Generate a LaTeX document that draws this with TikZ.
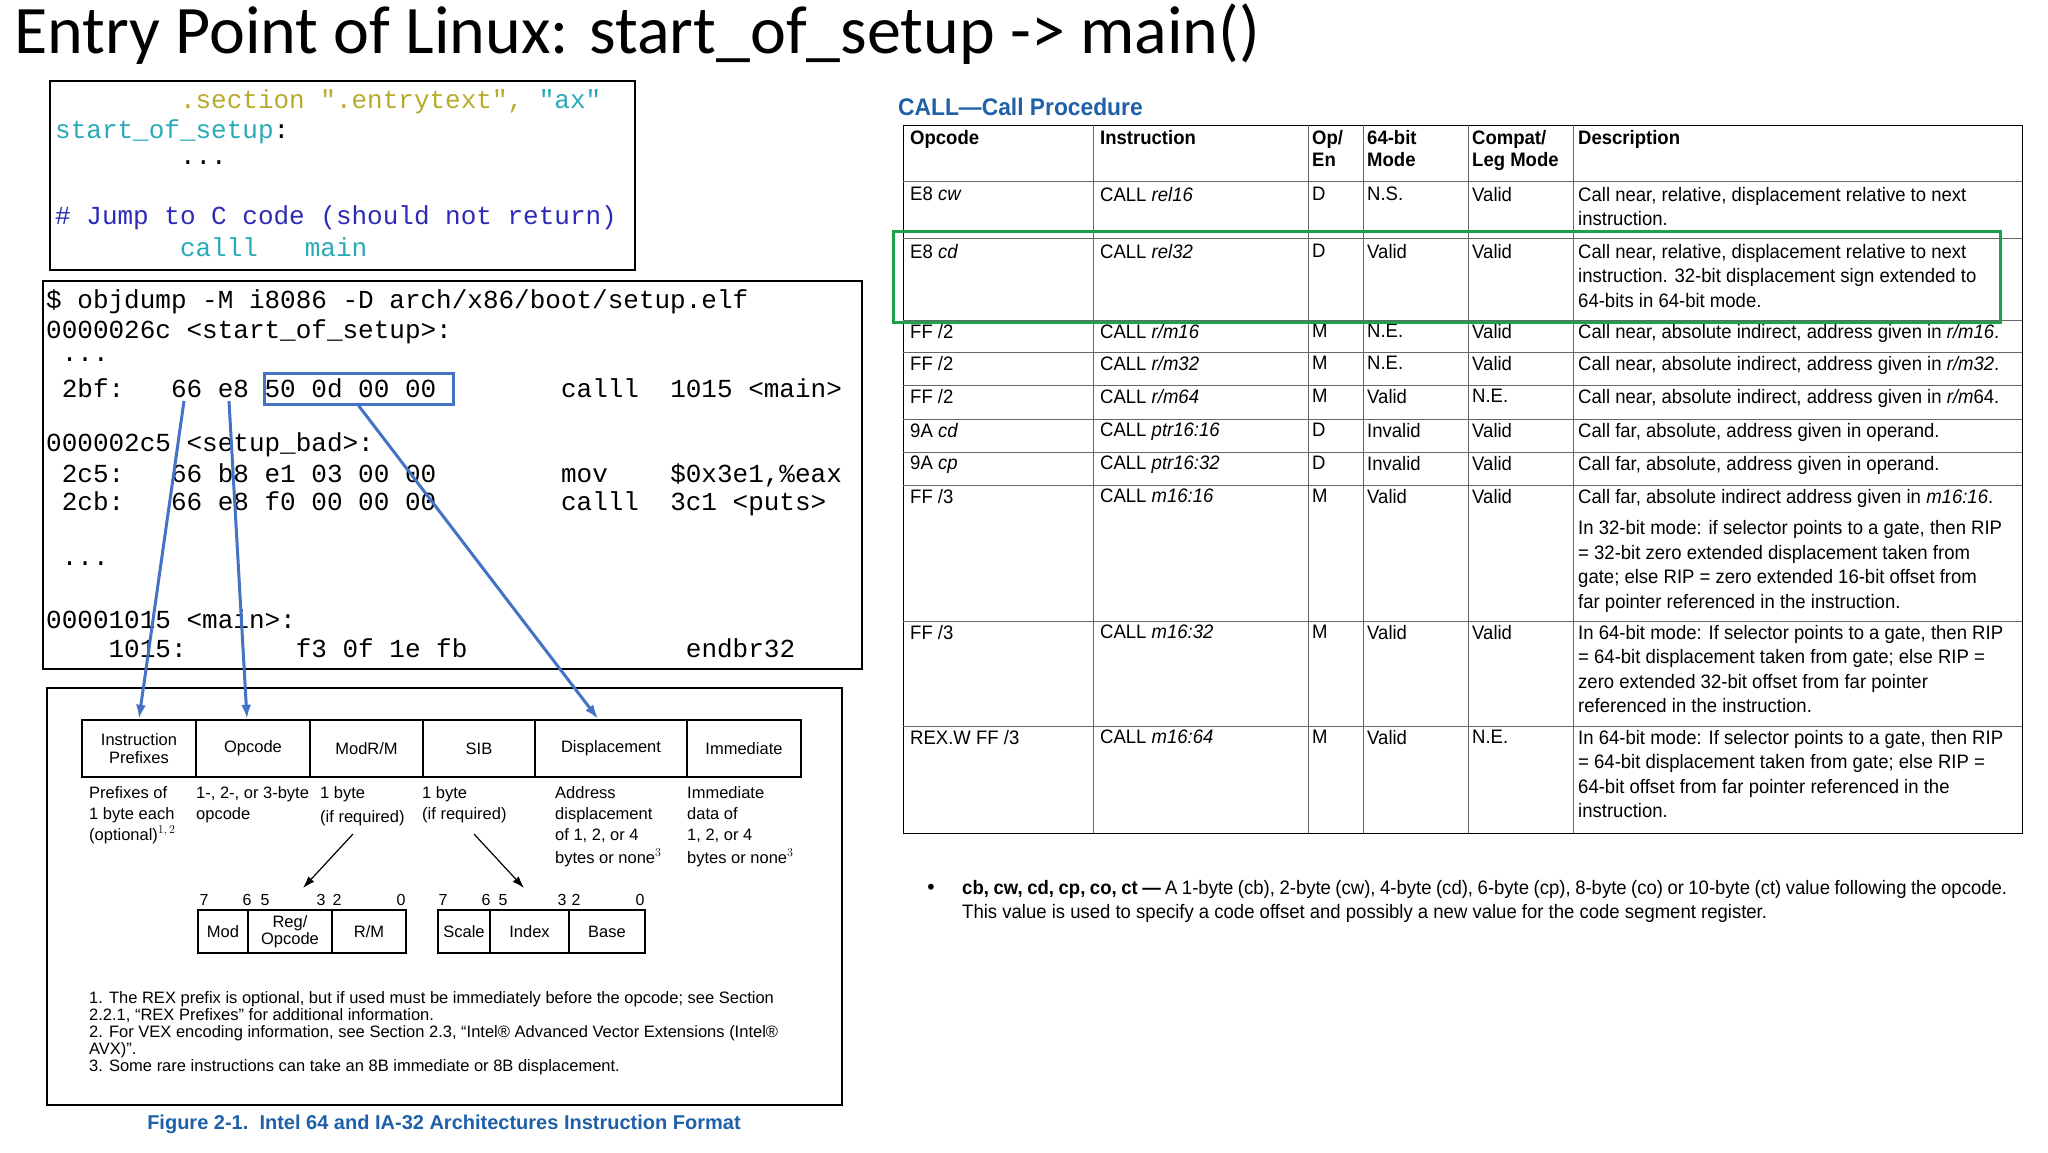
\documentclass[tikz,border=0pt]{standalone}
\usepackage{fontspec}
\usetikzlibrary{arrows.meta}
\setmainfont{Liberation Sans}
\newfontfamily\ttl{Carlito}
\newfontfamily\mono{Liberation Mono}
\newfontfamily\intel[FakeStretch=0.95,Ligatures=TeX]{Liberation Sans}
\newfontfamily\fig[Ligatures=TeX]{Liberation Sans}
\definecolor{olive}{HTML}{B8AA2A}
\definecolor{tealc}{HTML}{2AAAB8}
\definecolor{cmt}{HTML}{2B2BB8}
\definecolor{ablue}{HTML}{4472C4}
\definecolor{ibl}{HTML}{1F60A8}
\definecolor{grn}{HTML}{21A04A}
\begin{document}
\begin{tikzpicture}[x=1pt,y=-1pt,
  tl/.style={anchor=west,inner sep=0,font=\mono\fontsize{26}{30}\selectfont},
  ol/.style={anchor=west,inner sep=0,font=\mono\fontsize{26}{30}\selectfont},
  fcell/.style={draw,line width=2.5,minimum height=57,inner sep=0,align=center,font=\fig\fontsize{16.5}{18}\selectfont},
  bcell/.style={draw,line width=2.5,minimum height=43,inner sep=0,align=center,font=\fig\fontsize{16.5}{17}\selectfont},
  flab/.style={anchor=north west,inner sep=0,align=left,font=\fig\fontsize{16.5}{21}\selectfont},
  bit/.style={inner sep=0,font=\fig\fontsize{16}{16}\selectfont},
  tc/.style={anchor=north west,inner sep=0,align=left,font=\intel\fontsize{19.5}{24.5}\selectfont},
  th/.style={anchor=north west,inner sep=0,align=left,font=\intel\bfseries\fontsize{19.5}{22}\selectfont},
  barrow/.style={draw=ablue,line width=3,-{Latex[length=14,width=10]}},
  karrow/.style={draw,line width=1.2,-{Latex[length=12,width=8]}}]
\useasboundingbox (0,0) rectangle (2048,1152);
\fill[white] (0,0) rectangle (2048,1152);
% title
\node[anchor=west,inner sep=0,font=\ttl\fontsize{68}{72}\selectfont] (title) at (14,34) {Entry Point of Linux: start\_of\_setup -> main()};
% box 1
\draw[line width=2] (50,81) rectangle (635,270);
\node[tl] (s1) at (55,102) {~~~~~~~~\textcolor{olive}{.section~".entrytext",}~\textcolor{tealc}{"ax"}};
\node[tl] (s2) at (55,132) {\textcolor{tealc}{start\_of\_setup}:};
\node[tl] (s3) at (55,163) {~~~~~~~~...};
\node[tl] (s4) at (55,218) {\textcolor{cmt}{\#~Jump~to~C~code~(should~not~return)}};
\node[tl] (s5) at (55,247) {\textcolor{tealc}{~~~~~~~~calll~~~main}};
% box 2
\draw[line width=2] (43,281) rectangle (862,669);
\node[ol] (o1) at (46,302) {\$~objdump~-M~i8086~-D~arch/x86/boot/setup.elf};
\node[ol] (o2) at (46,332) {0000026c~<start\_of\_setup>:};
\node[ol] (o3) at (46,360) {~...};
\node[ol] (o4) at (46,388) {~2bf:~~~66~e8~50~0d~00~00~~~~~~~~calll~~1015~<main>};
\node[ol] (o5) at (46,445) {000002c5~<setup\_bad>:};
\node[ol] (o6) at (46,475) {~2c5:~~~66~b8~e1~03~00~00~~~~~~~~mov~~~~\$0x3e1,\%eax};
\node[ol] (o7) at (46,504) {~2cb:~~~66~e8~f0~00~00~00~~~~~~~~calll~~3c1~<puts>};
\node[ol] (o8) at (46,564) {~...};
\node[ol] (o9) at (46,619) {00001015~<main>:};
\node[ol] (o10) at (46,648) {~~~~1015:~~~~~~~f3~0f~1e~fb~~~~~~~~~~~~~~endbr32};
\node[draw=ablue,line width=3,minimum width=189,minimum height=31,inner sep=0] (hl) at (358.5,388.5) {};
% box 3
\draw[line width=1.5] (47,688) rectangle (842,1105);
\node[fcell,minimum width=114] (f1) at (139,748.5) {Instruction\\Prefixes};
\node[fcell,minimum width=114] (f2) at (253,748.5) {Opcode};
\node[fcell,minimum width=113] (f3) at (366.5,748.5) {ModR/M};
\node[fcell,minimum width=112] (f4) at (479,748.5) {SIB};
\node[fcell,minimum width=152] (f5) at (611,748.5) {Displacement};
\node[fcell,minimum width=114] (f6) at (744,748.5) {Immediate};
\node[flab] (l1) at (89,786) {Prefixes of\\1 byte each\\(optional)$^{1,\,2}$};
\node[flab] (l2) at (196,786) {1-, 2-, or 3-byte\\opcode};
\node[flab] (l3) at (320,786) {1 byte\\[3pt](if required)};
\node[flab] (l4) at (422,786) {1 byte\\(if required)};
\node[flab] (l5) at (555,786) {Address\\displacement\\of 1, 2, or 4\\[2pt]bytes or none$^3$};
\node[flab] (l6) at (687,786) {Immediate\\data of\\1, 2, or 4\\[2pt]bytes or none$^3$};
\coordinate (m1) at (353,834); \coordinate (m2) at (303,888);
\coordinate (n1) at (474,834); \coordinate (n2) at (524,888);
\draw[karrow] (m1) -- (m2);
\draw[karrow] (n1) -- (n2);
\foreach \t/\x in {7/204,6/247,5/265,3/321,2/337,0/401,7/443,6/486,5/503,3/562,2/576,0/640}
  \node[bit] at (\x,900) {\t};
\node[bcell,minimum width=50] (b1) at (223,931.5) {Mod};
\node[bcell,minimum width=84] (b2) at (290,931.5) {Reg/\\Opcode};
\node[bcell,minimum width=74] (b3) at (369,931.5) {R/M};
\node[bcell,minimum width=52] (b4) at (464,931.5) {Scale};
\node[bcell,minimum width=79] (b5) at (529.5,931.5) {Index};
\node[bcell,minimum width=76] (b6) at (607,931.5) {Base};
\node[flab,font=\fig\fontsize{16.5}{17}\selectfont] (fn) at (89,991) {1. The REX prefix is optional, but if used must be immediately before the opcode; see Section\\2.2.1, “REX Prefixes” for additional information.\\2. For VEX encoding information, see Section 2.3, “Intel\textregistered\ Advanced Vector Extensions (Intel\textregistered\\AVX)”.\\3. Some rare instructions can take an 8B immediate or 8B displacement.};
\node[inner sep=0,font=\fig\bfseries\fontsize{20}{22}\selectfont,text=ibl] (cap) at (444,1124) {Figure 2-1.\ \ Intel 64 and IA-32 Architectures Instruction Format};
% blue arrows
\coordinate (a66) at (184,401);
\coordinate (ae8) at (229,401);
\draw[barrow] (a66) -- (f1.north);
\draw[barrow] (ae8) -- ([xshift=-6]f2.north);
\draw[barrow] (hl.south) -- ([xshift=-13]f5.north);
% table
\node[anchor=west,inner sep=0,font=\intel\bfseries\fontsize{24}{26}\selectfont,text=ibl] (ctitle) at (898,107) {CALL—Call Procedure};
\draw[line width=1] (903,125) rectangle (2022,833);
\foreach \y in {181,238,320,352,385,419,452,485,621,726} \draw[line width=1,gray!80!black] (903,\y) -- (2022,\y);
\foreach \x in {1093,1308,1363,1468,1573} \draw[line width=1,gray!80!black] (\x,125) -- (\x,833);
\node[th] at (910,130) {Opcode};
\node[th] at (1100,130) {Instruction};
\node[th] at (1312,130) {Op/\\En};
\node[th] at (1367,130) {64-bit\\Mode};
\node[th] at (1472,130) {Compat/\\Leg Mode};
\node[th] at (1578,130) {Description};
\foreach \y/\a/\b/\c/\d/\e in {
 187/E8 \textit{cw}/CALL \textit{rel16}/D/N.S./Valid,
 244/E8 \textit{cd}/CALL \textit{rel32}/D/Valid/Valid,
 324/FF {/2}/CALL \textit{r{/}m16}/M/N.E./Valid,
 356/FF {/2}/CALL \textit{r{/}m32}/M/N.E./Valid,
 389/FF {/2}/CALL \textit{r{/}m64}/M/Valid/N.E.,
 423/9A \textit{cd}/CALL \textit{ptr16:16}/D/Invalid/Valid,
 456/9A \textit{cp}/CALL \textit{ptr16:32}/D/Invalid/Valid,
 489/FF {/3}/CALL \textit{m16:16}/M/Valid/Valid,
 625/FF {/3}/CALL \textit{m16:32}/M/Valid/Valid,
 730/REX.W FF {/3}/CALL \textit{m16:64}/M/Valid/N.E.}{
 \node[tc] at (910,\y) {\a};
 \node[tc] at (1100,\y) {\b};
 \node[tc] at (1312,\y) {\c};
 \node[tc] at (1367,\y) {\d};
 \node[tc] at (1472,\y) {\e};
}
\node[tc] (d1) at (1578,187) {Call near, relative, displacement relative to next\\instruction.};
\node[tc] (d2) at (1578,244) {Call near, relative, displacement relative to next\\instruction. 32-bit displacement sign extended to\\64-bits in 64-bit mode.};
\node[tc] (d3) at (1578,324) {Call near, absolute indirect, address given in \textit{r/m16}.};
\node[tc] (d4) at (1578,356) {Call near, absolute indirect, address given in \textit{r/m32}.};
\node[tc] (d5) at (1578,389) {Call near, absolute indirect, address given in \textit{r/m}64.};
\node[tc] (d6) at (1578,423) {Call far, absolute, address given in operand.};
\node[tc] (d7) at (1578,456) {Call far, absolute, address given in operand.};
\node[tc] (d8) at (1578,489) {Call far, absolute indirect address given in \textit{m16:16}.\\[7pt]In 32-bit mode: if selector points to a gate, then RIP\\= 32-bit zero extended displacement taken from\\gate; else RIP = zero extended 16-bit offset from\\far pointer referenced in the instruction.};
\node[tc] (d9) at (1578,625) {In 64-bit mode: If selector points to a gate, then RIP\\= 64-bit displacement taken from gate; else RIP =\\zero extended 32-bit offset from far pointer\\referenced in the instruction.};
\node[tc] (d10) at (1578,730) {In 64-bit mode: If selector points to a gate, then RIP\\= 64-bit displacement taken from gate; else RIP =\\64-bit offset from far pointer referenced in the\\instruction.};
\draw[grn,line width=3] (893,231) rectangle (2000,322);
% bullet
\node[inner sep=0,font=\intel\fontsize{22}{22}\selectfont] (bul) at (931,889) {\textbullet};
\node[anchor=north west,inner sep=0,text width=1045,align=justify,font=\intel\fontsize{19.5}{24}\selectfont] (btxt) at (962,880) {\textbf{cb, cw, cd, cp, co, ct —} A 1-byte (cb), 2-byte (cw), 4-byte (cd), 6-byte (cp), 8-byte (co) or 10-byte (ct) value following the opcode. This value is used to specify a code offset and possibly a new value for the code segment register.};
\end{tikzpicture}
\end{document}
